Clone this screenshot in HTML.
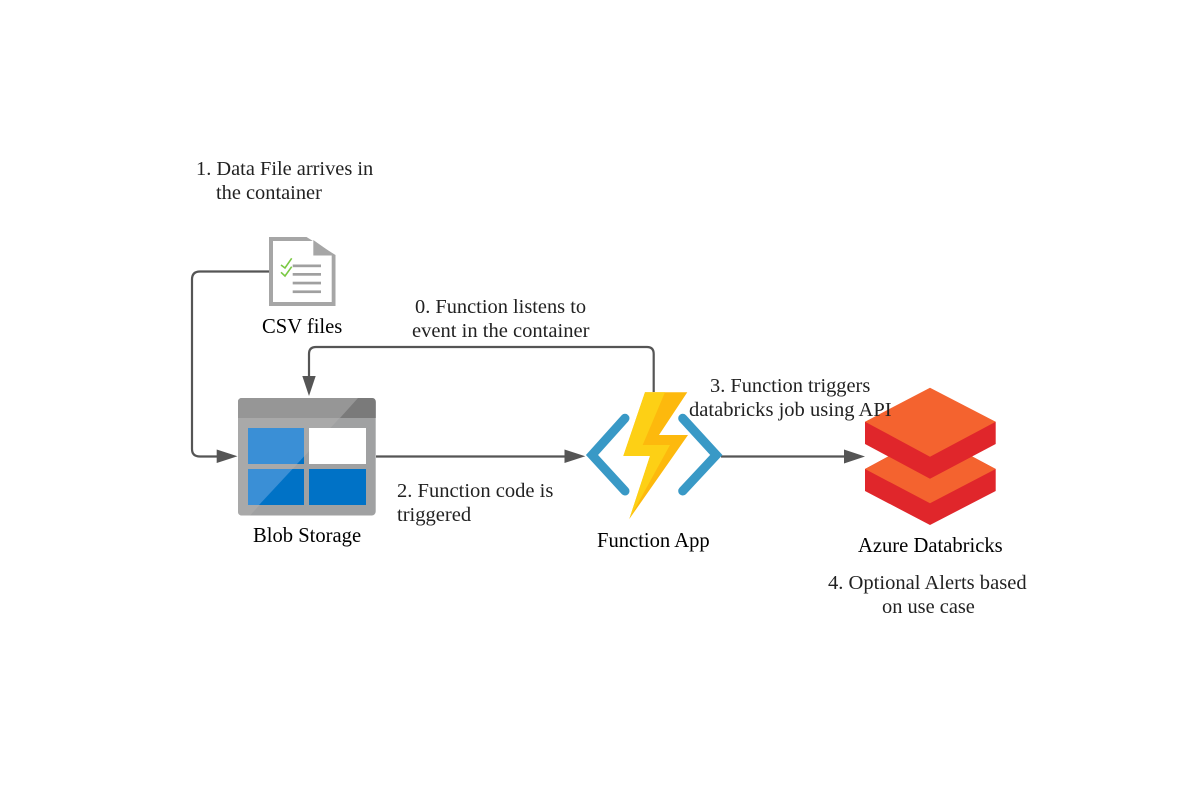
<!DOCTYPE html>
<html>
<head>
<meta charset="utf-8">
<style>
html,body{margin:0;padding:0;background:#fff;}
svg{display:block;}
text{font-family:"Liberation Serif",serif;}
.k{fill:#000;font-size:20.6px;}
.g{fill:#222;font-size:20.4px;}
.h{fill:#222;font-size:20.55px;}
</style>
</head>
<body>
<svg width="1200" height="794" viewBox="0 0 1200 794" xmlns="http://www.w3.org/2000/svg">
<rect width="1200" height="794" fill="#fff"/>

<!-- connectors -->
<g fill="none" stroke="#555" stroke-width="2.2">
<path d="M270 271.500H200Q192 271.500 192 279.500V449Q192 456.500 200 456.500H218"/>
<path d="M653.700 392V354Q653.700 347 647 347H316Q309 347 309 354V378"/>
<path d="M376 456.500H566"/>
<path d="M721 456.500H845"/>
</g>
<g fill="#555">
<polygon points="216.700,449.500 237.500,456.300 216.700,463"/>
<polygon points="302.300,376 315.700,376 309,396"/>
<polygon points="564.500,449.500 585.300,456.300 564.500,463"/>
<polygon points="844,449.500 865,456.500 844,463.500"/>
</g>

<!-- CSV file -->
<polygon points="269,237 306.500,237 335.500,255 335.500,306 269,306" fill="#a6a6a6"/>
<polygon points="273,241 313.300,241 331.700,255 331.700,302 273,302" fill="#fff"/>
<polygon points="313.300,240 335.300,255.500 313.300,255.500" fill="#a6a6a6"/>
<g fill="#a0a0a0">
<rect x="292.700" y="264.500" width="28.300" height="2.700"/>
<rect x="292.700" y="273" width="28.300" height="2.700"/>
<rect x="292.700" y="281.700" width="28.300" height="2.700"/>
<rect x="292.700" y="290.400" width="28.300" height="2.700"/>
</g>
<g fill="none" stroke="#7ac943" stroke-width="1.600">
<path d="M281 265L285 268L291.700 258.300"/>
<path d="M281 272.300L285 276L291.700 266.700"/>
</g>

<!-- Blob storage -->
<rect x="238" y="398" width="137.700" height="117.500" rx="4" fill="#a0a1a2"/>
<path d="M238 511.500V402Q238 398 242 398H358L250 515.500H242Q238 515.500 238 511.500Z" fill="#a9a9a9"/>
<path d="M238 418V402Q238 398 242 398H371.700Q375.700 398 375.700 402V418Z" fill="#969696"/>
<path d="M340 418L358 398H371.700Q375.700 398 375.700 402V418Z" fill="#7a7a7a"/>
<rect x="248" y="428" width="56" height="36" fill="#3a8fd6"/>
<polygon points="304,456.500 304,464 297,464" fill="#0072c6"/>
<rect x="309" y="428" width="57" height="36" fill="#fff"/>
<rect x="248" y="469" width="56" height="36" fill="#0072c6"/>
<rect x="309" y="469" width="57" height="36" fill="#0072c6"/>
<polygon points="248,469 292.500,469 259,505 248,505" fill="#3a8fd6"/>

<!-- Function App -->
<g fill="none" stroke="#3999c6" stroke-width="9" stroke-linecap="round" stroke-linejoin="miter">
<path d="M625 418.300L592 455L625 491"/>
<path d="M682.700 418.300L716.300 455L682.700 491"/>
</g>
<polygon points="645,392.300 687.300,392.300 659,435 688,435 629.300,519 650,456 623.300,456" fill="#fdb90d"/>
<polygon points="645,392.300 665,392.300 642.700,445 670,445 629.300,519 650,456 623.300,456" fill="#fdd015"/>

<!-- Databricks -->
<polygon points="930,434 995.700,469 995.700,491 930,525 865,491 865,469" fill="#e0262b"/>
<polygon points="930,434 995.700,469 930,503.300 865,469" fill="#f4632f"/>
<polygon points="930,410 995.700,421.700 995.700,444 930,478.700 865,444 865,421.700" fill="#e0262b"/>
<polygon points="930,387.700 995.700,421.700 930,456.700 865,421.700" fill="#f4632f"/>

<!-- labels -->
<text class="g" x="196" y="175">1. Data File arrives in</text>
<text class="g" x="216" y="199">the container</text>
<text class="k" x="262" y="333">CSV files</text>
<text class="g" x="415" y="313">0. Function listens to</text>
<text class="h" x="412" y="337">event in the container</text>
<text class="g" x="710" y="392">3. Function triggers</text>
<text class="h" x="689" y="416">databricks job using API</text>
<text class="h" x="397" y="497">2. Function code is</text>
<text class="h" x="397" y="521">triggered</text>
<text class="k" x="253" y="542">Blob Storage</text>
<text class="k" x="597" y="547">Function App</text>
<text class="k" x="858" y="552">Azure Databricks</text>
<text class="h" x="828" y="589">4. Optional Alerts based</text>
<text class="g" x="882" y="613">on use case</text>
</svg>
</body>
</html>
